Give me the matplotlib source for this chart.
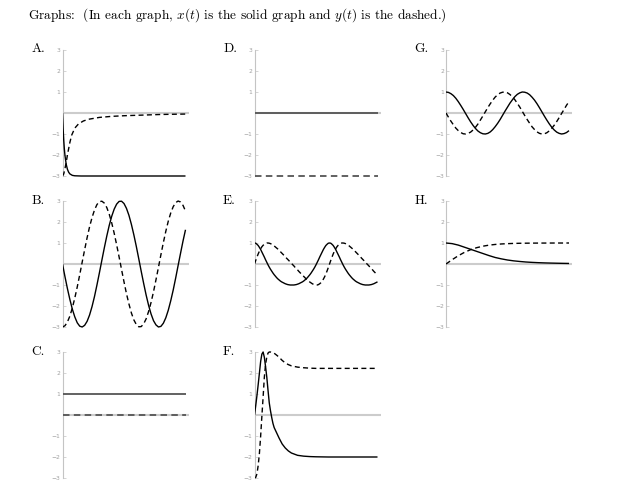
import matplotlib
matplotlib.use("Agg")
import matplotlib.pyplot as plt

plt.rcParams['mathtext.fontset'] = 'cm'

# ---- data ----
T_STEP = [round(0.2*i, 2) for i in range(51)]     # t = 0 .. 10
T_FINE = [round(0.1*i, 2) for i in range(101)]    # t = 0 .. 10

A_t = [0, 0.05, 0.1, 0.15, 0.2, 0.3, 0.4, 0.5, 0.6, 0.8, 1.0, 1.5, 2, 3, 4, 5, 6, 7, 8, 9, 10]
A_x = [0, -0.73, -1.29, -1.71, -2.02, -2.44, -2.68, -2.82, -2.90, -2.97, -2.99, -3, -3, -3, -3, -3, -3, -3, -3, -3, -3]
A_y_t = [0, 0.1, 0.2, 0.3, 0.4, 0.5, 0.6, 0.75, 1.0, 1.3, 1.7, 2.1, 3, 4, 5, 6, 7, 8, 9, 10]
A_y = [-3.0, -2.9, -2.65, -2.35, -2.0, -1.7, -1.4, -1.05, -0.72, -0.52, -0.38, -0.3, -0.21, -0.16, -0.13, -0.11, -0.09, -0.07, -0.06, -0.05]

B_x = [-0.00,-0.60,-1.17,-1.69,-2.15,-2.52,-2.80,-2.96,-3.00,-2.92,-2.73,-2.43,-2.03,-1.55,-1.00,-0.42,0.18,0.77,1.33,1.84,2.27,2.61,2.85,2.98,2.99,2.88,2.65,2.32,1.89,1.39,0.84,0.25,-0.35,-0.93,-1.48,-1.97,-2.38,-2.70,-2.90,-3.00,-2.97,-2.82,-2.56,-2.20,-1.75,-1.24,-0.67,-0.07,0.52,1.10,1.63]
B_y = [-3.00,-2.94,-2.76,-2.48,-2.09,-1.62,-1.09,-0.51,0.09,0.68,1.25,1.77,2.21,2.57,2.83,2.97,2.99,2.90,2.69,2.37,1.96,1.47,0.92,0.34,-0.26,-0.85,-1.41,-1.90,-2.33,-2.66,-2.88,-2.99,-2.98,-2.85,-2.61,-2.26,-1.83,-1.32,-0.75,-0.16,0.44,1.02,1.56,2.04,2.43,2.73,2.92,3.00,2.95,2.79,2.52]

C_t = [0, 10]
C_x = [1, 1]
C_y = [0, 0]

D_t = [0, 10]
D_x = [0, 0]
D_y = [-3, -3]

E_x = [1.00,0.99,0.94,0.88,0.79,0.69,0.57,0.45,0.33,0.20,0.08,-0.04,-0.15,-0.25,-0.34,-0.43,-0.51,-0.58,-0.65,-0.71,-0.76,-0.81,-0.85,-0.88,-0.91,-0.94,-0.96,-0.98,-0.99,-1.00,-1.00,-1.00,-1.00,-0.99,-0.98,-0.96,-0.94,-0.91,-0.88,-0.85,-0.81,-0.76,-0.71,-0.65,-0.58,-0.51,-0.43,-0.34,-0.25,-0.15,-0.04,0.08,0.20,0.33,0.45,0.57,0.69,0.79,0.88,0.94,0.99,1.00,0.99,0.94,0.88,0.79,0.69,0.57,0.45,0.33,0.20,0.08,-0.04,-0.15,-0.25,-0.34,-0.43,-0.51,-0.58,-0.65,-0.71,-0.76,-0.81,-0.85,-0.88,-0.91,-0.94,-0.96,-0.98,-0.99,-1.00,-1.00,-1.00,-1.00,-0.99,-0.98,-0.96,-0.94,-0.91,-0.88,-0.85]
E_y = [0.00,0.17,0.33,0.48,0.61,0.72,0.82,0.89,0.94,0.98,1.00,1.00,0.99,0.97,0.94,0.90,0.86,0.81,0.76,0.71,0.65,0.59,0.53,0.47,0.41,0.35,0.28,0.22,0.16,0.09,0.03,-0.03,-0.09,-0.16,-0.22,-0.28,-0.35,-0.41,-0.47,-0.53,-0.59,-0.65,-0.71,-0.76,-0.81,-0.86,-0.90,-0.94,-0.97,-0.99,-1.00,-1.00,-0.98,-0.94,-0.89,-0.82,-0.72,-0.61,-0.48,-0.33,-0.17,-0.00,0.17,0.33,0.48,0.61,0.72,0.82,0.89,0.94,0.98,1.00,1.00,0.99,0.97,0.94,0.90,0.86,0.81,0.76,0.71,0.65,0.59,0.53,0.47,0.41,0.35,0.28,0.22,0.16,0.09,0.03,-0.03,-0.09,-0.16,-0.22,-0.28,-0.35,-0.41,-0.47,-0.53]

F_t = [0, 0.1, 0.2, 0.3, 0.4, 0.5, 0.6, 0.7, 0.8, 0.9, 1.0, 1.1, 1.2, 1.3, 1.4, 1.5, 1.6, 1.8, 2.0, 2.25, 2.5, 2.75, 3.0, 3.5, 4.0, 4.5, 5, 6, 7, 8, 9, 10]
F_x = [0, 0.45, 0.93, 1.45, 2.0, 2.55, 2.9, 3.0, 2.75, 2.3, 1.8, 1.17, 0.58, 0.2, -0.12, -0.4, -0.6, -0.85, -1.1, -1.38, -1.57, -1.71, -1.81, -1.92, -1.96, -1.98, -1.99, -2, -2, -2, -2, -2]
F_y = [-3.0, -2.97, -2.8, -2.4, -1.82, -1.0, -0.05, 0.85, 1.8, 2.42, 2.76, 2.95, 3.0, 3.0, 2.98, 2.96, 2.94, 2.85, 2.75, 2.6, 2.48, 2.4, 2.34, 2.28, 2.25, 2.23, 2.22, 2.22, 2.22, 2.22, 2.22, 2.22]

G_x = [1.00,0.98,0.92,0.83,0.70,0.54,0.36,0.17,-0.03,-0.23,-0.42,-0.59,-0.74,-0.86,-0.94,-0.99,-1.00,-0.97,-0.90,-0.79,-0.65,-0.49,-0.31,-0.11,0.09,0.28,0.47,0.63,0.78,0.89,0.96,1.00,0.99,0.95,0.87,0.75,0.61,0.44,0.25,0.05,-0.15,-0.34,-0.52,-0.68,-0.81,-0.91,-0.97,-1.00,-0.98,-0.93,-0.84]
G_y = [-0.00,-0.20,-0.39,-0.56,-0.72,-0.84,-0.93,-0.99,-1.00,-0.97,-0.91,-0.81,-0.68,-0.52,-0.33,-0.14,0.06,0.26,0.44,0.61,0.76,0.87,0.95,0.99,1.00,0.96,0.88,0.77,0.63,0.46,0.28,0.08,-0.12,-0.31,-0.49,-0.66,-0.79,-0.90,-0.97,-1.00,-0.99,-0.94,-0.85,-0.73,-0.58,-0.41,-0.22,-0.02,0.17,0.37,0.54]

H_t = [0, 0.5, 1, 1.5, 2, 2.5, 3, 3.5, 4, 4.5, 5, 5.5, 6, 6.5, 7, 7.5, 8, 8.5, 9, 9.5, 10]
H_x = [1, 0.97, 0.9, 0.8, 0.7, 0.6, 0.5, 0.4, 0.31, 0.245, 0.19, 0.15, 0.12, 0.095, 0.077, 0.063, 0.052, 0.044, 0.037, 0.031, 0.026]
H_y = [0, 0.205, 0.394, 0.555, 0.682, 0.778, 0.848, 0.898, 0.931, 0.954, 0.969, 0.98, 0.987, 0.991, 0.994, 0.996, 0.997, 0.998, 0.999, 0.999, 1.0]

TICK_VALUES = [-3, -2, -1, 1, 2, 3]
TICK_LABELS = ['\u22123', '\u22122', '\u22121', '1', '2', '3']
PANEL_LETTERS = ['A.', 'B.', 'C.', 'D.', 'E.', 'F.', 'G.', 'H.']
TITLE = r"Graphs:  (In each graph, $x(t)$ is the solid graph and $y(t)$ is the dashed.)"

panels = [
    (A_t, A_x, A_y_t, A_y),
    (T_STEP, B_x, T_STEP, B_y),
    (C_t, C_x, C_t, C_y),
    (D_t, D_x, D_t, D_y),
    (T_FINE, E_x, T_FINE, E_y),
    (F_t, F_x, F_t, F_y),
    (T_STEP, G_x, T_STEP, G_y),
    (H_t, H_x, H_t, H_y),
]

# ---- layout (pixels) ----
W, H = 642, 488
fig = plt.figure(figsize=(W/100, H/100), dpi=100)

col_left = [62.5, 254.5, 446.0]
row_top3 = [50.0, 201.0, 352.0]
label_x = [31.5, 223, 414.5]
label_base = [52.5, 204, 355]
PX_PER_Y = 21.0
PX_PER_T = 12.3
YLIM = 3.08
XMAX = 10.25

fig.text(28/W, 1-19/H, TITLE, fontsize=9.6, family='cmr10', va='baseline', ha='left')

dash = (0, (3.6, 2.4))
for i, (tx, xs, ty, ys) in enumerate(panels):
    col, row = divmod(i, 3)
    left = col_left[col]
    top = row_top3[row] - (YLIM-3)*PX_PER_Y
    h = 2*YLIM*PX_PER_Y
    w_ = XMAX*PX_PER_T
    ax = fig.add_axes([left/W, 1-(top+h)/H, w_/W, h/H])
    ax.set_xlim(0, XMAX)
    ax.set_ylim(-YLIM, YLIM)
    for s in ['top', 'right', 'bottom']:
        ax.spines[s].set_visible(False)
    ax.spines['left'].set_bounds(-3, 3)
    ax.spines['left'].set_color('#c4c4c4')
    ax.spines['left'].set_linewidth(0.8)
    ax.set_xticks([])
    ax.set_yticks(TICK_VALUES)
    ax.set_yticklabels(TICK_LABELS)
    ax.tick_params(axis='y', direction='in', length=2, width=0.5, color='#c4c4c4',
                   labelsize=4.3, labelcolor='#a0a0a0', pad=1.5)
    ax.axhline(0, color='#cccccc', lw=1.5, zorder=1)
    const = i in (2, 3)
    c = '#555555' if const else 'black'
    lw = 1.3 if const else 1.0
    ax.plot(tx, xs, color=c, lw=lw, zorder=3, solid_capstyle='butt')
    ax.plot(ty, ys, color=c, lw=lw, linestyle=dash, zorder=3)
    ax.patch.set_alpha(0)
    fig.text(label_x[col]/W, 1-label_base[row]/H, PANEL_LETTERS[i], fontsize=9.6,
             family='cmr10', va='baseline', ha='left')

fig.savefig("out.png", dpi=100)
